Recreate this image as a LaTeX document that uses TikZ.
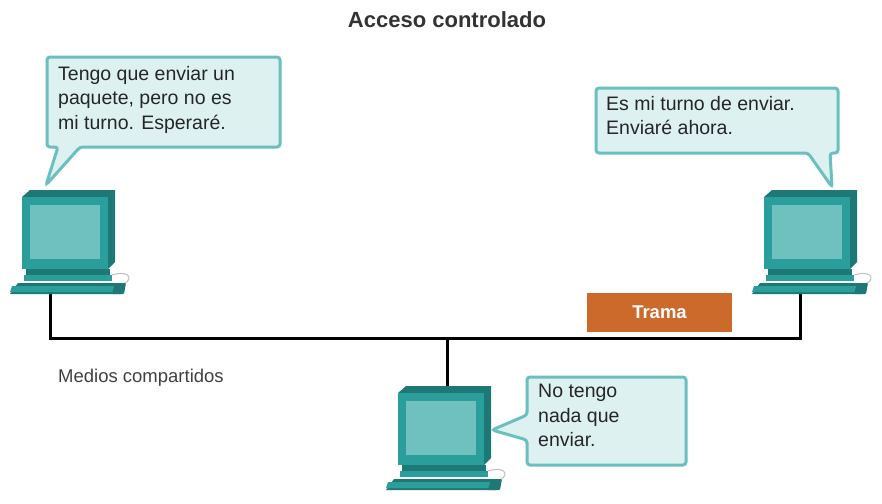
\documentclass[tikz,border=0pt]{standalone}
\usepackage{fontspec}
\setmainfont{Liberation Sans}
\definecolor{bubfill}{HTML}{DDF1F1}
\definecolor{bubline}{HTML}{6BBFBF}
\definecolor{pcmain}{HTML}{2A9E9B}
\definecolor{pcdark}{HTML}{1E7876}
\definecolor{pcscreen}{HTML}{6EC1BF}
\definecolor{trama}{HTML}{CC6A2C}
\begin{document}
\begin{tikzpicture}[x=1pt,y=-1pt,
  bub/.style={draw=bubline, fill=bubfill, line width=3pt, rounded corners=3pt},
  bubtxt/.style={align=left, anchor=north west, font=\fontsize{19.5}{24.5}\selectfont, text=black!85, inner sep=0pt},
  net/.style={line width=3pt, black},
  pc/.pic={
    \fill[pcdark] (0,0) -- (8,-7) -- (93,-7) -- (93,65) -- (86,72) -- (86,7) -- cycle;
    \fill[pcmain] (0,0) rectangle (86,72);
    \fill[pcscreen] (8,8) rectangle (78,62);
    \fill[pcdark] (4,72) rectangle (88,78);
    \fill[pcmain] (2,78) rectangle (90,84);
    \fill[pcdark] (-4,86) -- (94,86) -- (98,97) -- (-12,97) -- cycle;
    \fill[pcmain] (-10,89) -- (94,89) -- (96,95) -- (-12,95) -- cycle;
    \draw[gray!50, line width=1pt] (90,78) .. controls (110,72) and (112,85) .. (98,88);
    \fill[pcdark, rounded corners=1pt] (93,86) -- (104,86) -- (102,97) -- (90,97) -- cycle;
  }]
\useasboundingbox (0,0) rectangle (882,503);
\node[font=\bfseries\fontsize{22}{26}\selectfont, text=black!80] (title) at (447,20) {Acceso controlado};
% network
\coordinate (l) at (50,293);
\coordinate (r) at (800,293);
\coordinate (lc) at (50,338);
\coordinate (rc) at (800,338);
\coordinate (mc) at (447,338);
\coordinate (m) at (447,392);
\draw[net] (l) -- (lc) -- (rc) -- (r);
\draw[net] (mc) -- (m);
% computers
\pic at (22,197) {pc};
\pic at (764,197) {pc};
\pic at (398,393) {pc};
% bubbles
\draw[bub] (47,57) -- (280,57) -- (280,147) -- (80,147) -- (46,185) -- (58,147) -- (47,147) -- cycle;
\node[bubtxt] (t1) at (58,66) {Tengo que enviar un\\paquete, pero no es\\mi turno. Esperaré.};
\draw[bub] (596,88) -- (838,88) -- (838,153) -- (830,153) -- (832,187) -- (808,153) -- (596,153) -- cycle;
\node[bubtxt] (t2) at (606,96) {Es mi turno de enviar.\\Enviaré ahora.};
\draw[bub] (527,377) -- (686,377) -- (686,465) -- (527,465) -- (527,440) -- (492,430) -- (527,415) -- cycle;
\node[bubtxt] (t3) at (538,384) {No tengo\\nada que\\enviar.};
% trama
\node[fill=trama, text=white, font=\bfseries\fontsize{18.5}{20}\selectfont, minimum width=145pt, minimum height=39pt, inner sep=0pt] (trama) at (659.5,312.5) {Trama};
\node[anchor=west, font=\fontsize{18.5}{20}\selectfont, text=black!75, inner sep=0pt] (medios) at (58,378) {Medios compartidos};
\end{tikzpicture}
\end{document}
